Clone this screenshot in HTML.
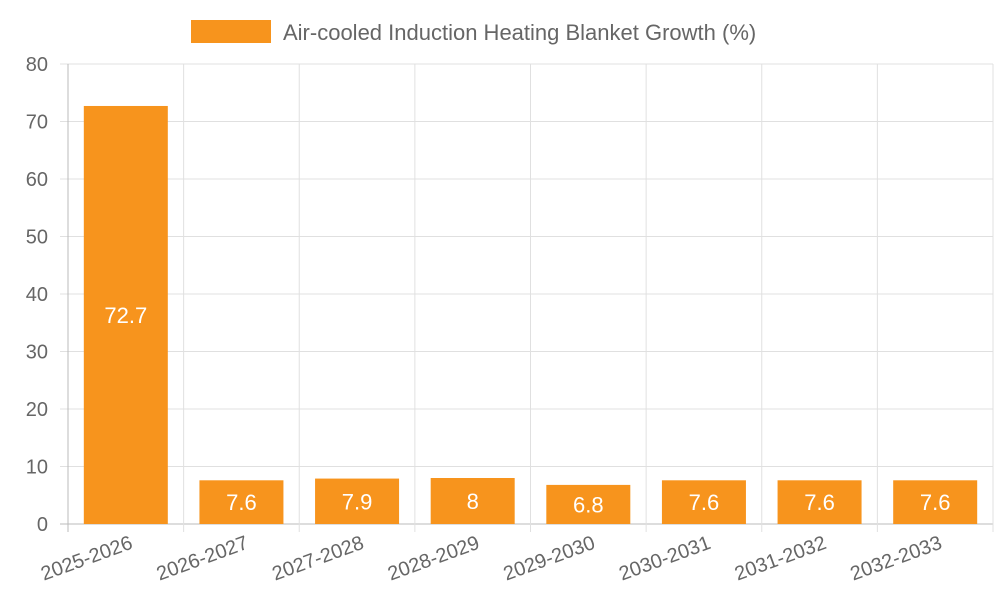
<!DOCTYPE html>
<html><head><meta charset="utf-8"><style>
body{margin:0;background:#fff;font-family:"Liberation Sans",sans-serif;}
</style></head><body>
<svg id="chart" width="1000" height="600" xmlns="http://www.w3.org/2000/svg" font-family="Liberation Sans, sans-serif">
<rect x="191" y="20" width="80" height="23" fill="#f7941d"/>
<text x="283" y="40" font-size="22" fill="#666">Air-cooled Induction Heating Blanket Growth (%)</text>
<g id="grid"></g><g id="bars"></g><g id="labels"></g>
</svg>
<script>
const categories=["2025-2026","2026-2027","2027-2028","2028-2029","2029-2030","2030-2031","2031-2032","2032-2033"];
const values=[72.7,7.6,7.9,8,6.8,7.6,7.6,7.6];
const yTicks=[0,10,20,30,40,50,60,70,80];
const NS="http://www.w3.org/2000/svg";
const L=68,R=993,T=64,B=524,yMax=80;
const y=v=>B-(v/yMax)*(B-T);
const bw=(R-L)/categories.length;
const x=i=>L+i*bw;
function mk(tag,attrs,parent){const e=document.createElementNS(NS,tag);for(const k in attrs)e.setAttribute(k,attrs[k]);document.getElementById(parent).appendChild(e);return e;}
const grid="grid";
yTicks.forEach(t=>{
 const l=mk("line",{x1:L-8,x2:R,y1:y(t),y2:y(t),stroke:t===0?"#bbb":"#e0e0e0","stroke-width":1},grid);
 
 
 const tx=mk("text",{x:L-20,y:y(t)+7,"text-anchor":"end","font-size":20,fill:"#666"},grid);
 tx.textContent=t;
 
 
});
for(let i=0;i<=categories.length;i++){
 const l=mk("line",{x1:x(i),x2:x(i),y1:T,y2:B+8,stroke:i===0?"#bbb":"#e0e0e0","stroke-width":1},grid);
 
 
}
categories.forEach((c,i)=>{
 const cx=x(i)+bw/2, w=84;
 const r=mk("rect",{x:cx-w/2,y:y(values[i]),width:w,height:B-y(values[i]),fill:"#f7941d"},"bars");
 
 
 const vy=(y(values[i])+B)/2+8;
 const vt=mk("text",{x:cx,y:vy,"text-anchor":"middle","font-size":22,fill:"#fff"},"labels");
 vt.textContent=values[i];
 
 
 const xt=mk("text",{x:cx+8,y:B+24,"text-anchor":"end","font-size":20,fill:"#666",transform:`rotate(-20 ${cx+8} ${B+24})`},"labels");
 xt.textContent=c;
 
 
});
</script>
</body></html>
